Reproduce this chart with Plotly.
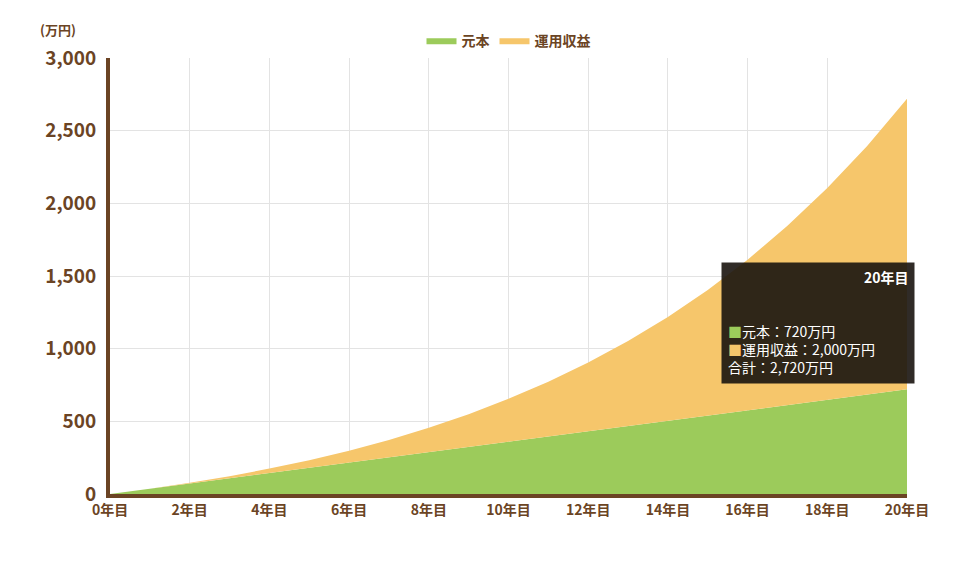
import plotly.graph_objects as go

years = list(range(0, 21))
principal = [36 * y for y in years]
total = [0, 36, 78, 122, 175, 232, 298, 372, 455, 548, 655, 772, 905, 1052, 1218, 1404, 1612, 1845, 2105, 2395, 2720]
gain = [t - p for t, p in zip(total, principal)]
tick_vals = list(range(0, 21, 2))
tick_text = [f"<b>{y}年目</b>" for y in tick_vals]

brown = "#6b4424"
font_family = "Noto Sans CJK JP"

fig = go.Figure()
fig.add_trace(go.Scatter(
    x=years, y=principal, name="<b>元本</b>", stackgroup="one",
    mode="lines", line=dict(width=0, color="#9ccb5b"), fillcolor="#9ccb5b",
))
fig.add_trace(go.Scatter(
    x=years, y=gain, name="<b>運用収益</b>", stackgroup="one",
    mode="lines", line=dict(width=0, color="#f6c66b"), fillcolor="#f6c66b",
))

fig.update_layout(
    width=961, height=562,
    margin=dict(l=102, r=62, t=50, b=76, autoexpand=False),
    paper_bgcolor="white", plot_bgcolor="white",
    font=dict(family=font_family, color=brown, size=14),
    showlegend=True,
    legend=dict(orientation="h", x=0.5, xanchor="center", y=1.04, yanchor="middle",
                traceorder="normal", font=dict(size=14, color=brown), itemsizing="constant"),
    xaxis=dict(range=[0, 20], tickvals=tick_vals, ticktext=tick_text,
               showgrid=True, gridcolor="#e3e3e3", showline=True, linecolor=brown,
               linewidth=4, ticks="", tickfont=dict(size=14, color=brown), zeroline=False),
    yaxis=dict(range=[0, 3000], dtick=500, tickformat=",", showgrid=True, gridcolor="#e3e3e3",
               showline=True, linecolor=brown, linewidth=4, ticks="", zeroline=False,
               tickfont=dict(size=19, color=brown, weight="bold"), ticklabelstandoff=6),
)

fig.add_annotation(xref="paper", yref="paper", x=-0.09, y=1.04, xanchor="left", yanchor="bottom",
                   text="<b>(万円)</b>", showarrow=False, font=dict(size=13, color=brown))

i = 20
tip = (f"<span style='color:#9ccb5b'>■</span>元本：{principal[i]:,}万円<br>"
       f"<span style='color:#f6c66b'>■</span>運用収益：{gain[i]:,}万円<br>"
       f"合計：{total[i]:,}万円")
fig.add_annotation(xref="paper", yref="paper", x=0.767, y=0.532, xanchor="left", yanchor="top",
                   width=180, height=108, valign="bottom",
                   text=tip, showarrow=False, align="left", bgcolor="rgba(25,20,15,0.9)",
                   borderpad=6, font=dict(size=14, color="white"))
fig.add_annotation(xref="paper", yref="paper", x=1.005, y=0.525, xanchor="right", yanchor="top",
                   text=f"<b>{years[i]}年目</b>", showarrow=False,
                   font=dict(size=14, color="white"))

fig.write_html("out.html")
